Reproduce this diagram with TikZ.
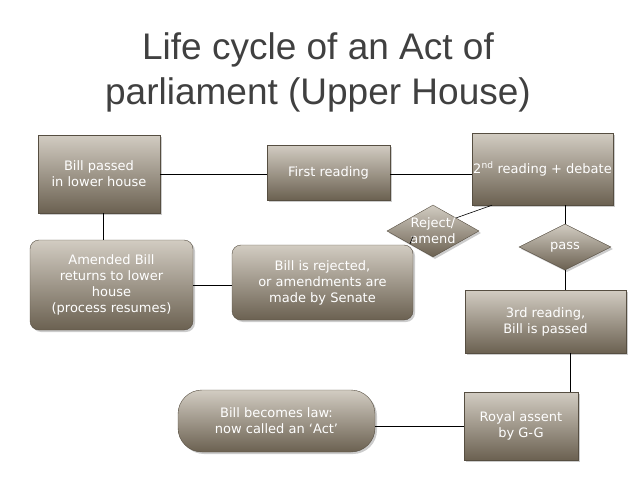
\documentclass[tikz,border=0pt]{standalone}
\usepackage{fontspec}
\setmainfont{Liberation Sans}
\newfontfamily\boxfont{DejaVu Sans}
\usetikzlibrary{shapes.geometric,shadows}
\definecolor{topc}{HTML}{D2CCC2}
\definecolor{botc}{HTML}{6B6151}
\tikzset{
 bx/.style={draw=botc!80!black,line width=0.4pt,top color=topc,bottom color=botc,text=white,font=\boxfont\fontsize{13}{16}\selectfont,align=center,inner sep=1pt,drop shadow={shadow xshift=2pt,shadow yshift=-2pt,opacity=0.4}},
 rbx/.style={bx,rounded corners=9pt},
 dia/.style={bx,diamond,aspect=1.8,inner sep=0pt},
 ln/.style={draw=black,line width=0.6pt}
}
\begin{document}
\begin{tikzpicture}[x=1pt,y=-1pt]
\useasboundingbox (0,0) rectangle (638,479);
\node[font=\fontsize{37}{45}\selectfont,text=black!75,align=center] (title) at (318,72) {Life cycle of an Act of\\parliament (Upper House)};
\node[bx,minimum width=122pt,minimum height=78pt] (bp) at (99,174) {Bill passed\\ in lower house};
\node[bx,minimum width=123pt,minimum height=55pt] (fr) at (328.5,172.5) {First reading};
\node[bx,minimum width=135pt,minimum height=72pt] (sr) at (542.5,169) {2\textsuperscript{nd} reading + debate};
\node[dia,minimum width=92pt,minimum height=52pt] (rej) at (433,231) {Reject/\\amend};
\node[dia,minimum width=92pt,minimum height=46pt] (pass) at (565,247) {pass};
\node[rbx,minimum width=163pt,minimum height=90pt] (am) at (111.5,285) {Amended Bill\\returns to lower\\house\\(process resumes)};
\node[rbx,minimum width=181pt,minimum height=75pt] (rj) at (322.5,282.5) {Bill is rejected,\\or amendments are\\made by Senate};
\node[bx,minimum width=161pt,minimum height=63pt] (tr) at (545.5,321.5) {3rd reading,\\Bill is passed};
\node[bx,minimum width=114pt,minimum height=68pt] (ra) at (521,426) {Royal assent\\by G-G};
\node[rbx,rounded corners=24pt,minimum width=197pt,minimum height=62pt] (law) at (276.5,421) {Bill becomes law:\\now called an ‘Act’};
\draw[ln] (bp.east) -- (bp.east-|fr.west);
\draw[ln] (fr.east|-bp.east) -- (bp.east-|sr.west);
\draw[ln] ([xshift=4pt]bp.south) -- ([xshift=4pt]bp.south|-am.north);
\draw[ln] (am.east) -- (am.east-|rj.west);
\draw[ln] ([yshift=9pt]rj.north east) -- (rej.south west);
\draw[ln] (rej.north east) -- ([xshift=20pt]sr.south west);
\draw[ln] (pass.north|-sr.south) -- (pass.north);
\draw[ln] (pass.south) -- (pass.south|-tr.north);
\draw[ln] ([xshift=25pt]tr.south) -- ([xshift=25pt]tr.south|-ra.north);
\draw[ln] (ra.west) -- (ra.west-|law.east);
\end{tikzpicture}
\end{document}
